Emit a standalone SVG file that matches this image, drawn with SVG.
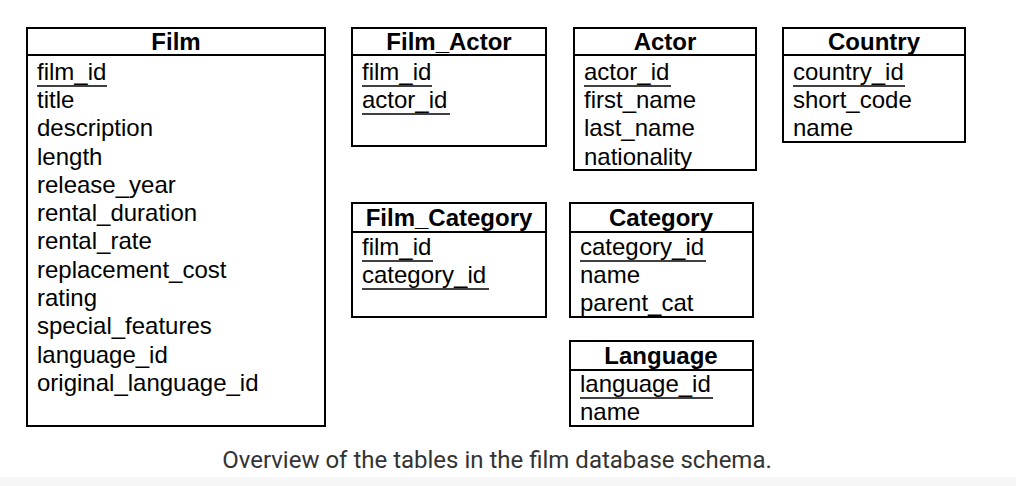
<svg xmlns="http://www.w3.org/2000/svg" width="1016" height="486" viewBox="0 0 1016 486">
<style>
.b{fill:#fff;stroke:#000;stroke-width:2}
.l{stroke:#000;stroke-width:2}
.u{stroke:#000;stroke-width:1.5}
.h{font:bold 24px "Liberation Sans",Arial,sans-serif;text-anchor:middle;fill:#000}
.t{font:24px "Liberation Sans",Arial,sans-serif;fill:#000}
.c{font:24px Roboto,"Liberation Sans",sans-serif;fill:#333;text-anchor:middle}
</style>
<rect width="1016" height="486" fill="#fff"/>
<rect y="477" width="1016" height="9" fill="#f6f6f6"/>
<g id="film"><rect class="b" x="27" y="28" width="298" height="398"/><line class="l" x1="27" y1="55" x2="325" y2="55"/><text class="h" x="176" y="50">Film</text>
<text class="t" x="37" y="80">film_id</text><line class="u" x1="37" y1="86" x2="107" y2="86"/>
<text class="t" x="37" y="108">title</text><text class="t" x="37" y="136">description</text><text class="t" x="37" y="165">length</text><text class="t" x="37" y="193">release_year</text><text class="t" x="37" y="221">rental_duration</text><text class="t" x="37" y="249">rental_rate</text><text class="t" x="37" y="278">replacement_cost</text><text class="t" x="37" y="306">rating</text><text class="t" x="37" y="334">special_features</text><text class="t" x="37" y="363">language_id</text><text class="t" x="37" y="391">original_language_id</text></g>
<g id="film_actor"><rect class="b" x="352" y="28" width="194" height="118"/><line class="l" x1="352" y1="55" x2="546" y2="55"/><text class="h" x="449" y="50">Film_Actor</text>
<text class="t" x="362" y="80">film_id</text><line class="u" x1="362" y1="86" x2="432" y2="86"/>
<text class="t" x="362" y="108">actor_id</text><line class="u" x1="362" y1="114" x2="450" y2="114"/></g>
<g id="actor"><rect class="b" x="574" y="28" width="182" height="142"/><line class="l" x1="574" y1="55" x2="756" y2="55"/><text class="h" x="665" y="50">Actor</text>
<text class="t" x="584" y="80">actor_id</text><line class="u" x1="584" y1="86" x2="671" y2="86"/>
<text class="t" x="584" y="108">first_name</text><text class="t" x="584" y="136">last_name</text><text class="t" x="584" y="165">nationality</text></g>
<g id="country"><rect class="b" x="783" y="28" width="182" height="114"/><line class="l" x1="783" y1="55" x2="965" y2="55"/><text class="h" x="874" y="50">Country</text>
<text class="t" x="793" y="80">country_id</text><line class="u" x1="793" y1="86" x2="905" y2="86"/>
<text class="t" x="793" y="108">short_code</text><text class="t" x="793" y="136">name</text></g>
<g id="film_category"><rect class="b" x="352" y="203" width="194" height="114"/><line class="l" x1="352" y1="232" x2="546" y2="232"/><text class="h" x="449" y="226">Film_Category</text>
<text class="t" x="362" y="255">film_id</text><line class="u" x1="362" y1="261" x2="433" y2="261"/>
<text class="t" x="362" y="283">category_id</text><line class="u" x1="362" y1="289" x2="489" y2="289"/></g>
<g id="category"><rect class="b" x="570" y="203" width="183" height="114"/><line class="l" x1="570" y1="232" x2="753" y2="232"/><text class="h" x="661" y="226">Category</text>
<text class="t" x="580" y="255">category_id</text><line class="u" x1="580" y1="261" x2="706" y2="261"/>
<text class="t" x="580" y="283">name</text><text class="t" x="580" y="311">parent_cat</text></g>
<g id="language"><rect class="b" x="570" y="341" width="183" height="85"/><line class="l" x1="570" y1="370" x2="753" y2="370"/><text class="h" x="661" y="364">Language</text>
<text class="t" x="580" y="392">language_id</text><line class="u" x1="580" y1="398" x2="713" y2="398"/>
<text class="t" x="580" y="420">name</text></g>
<g id="connectors"/>
<text class="c" x="497" y="468">Overview of the tables in the film database schema.</text>
</svg>
